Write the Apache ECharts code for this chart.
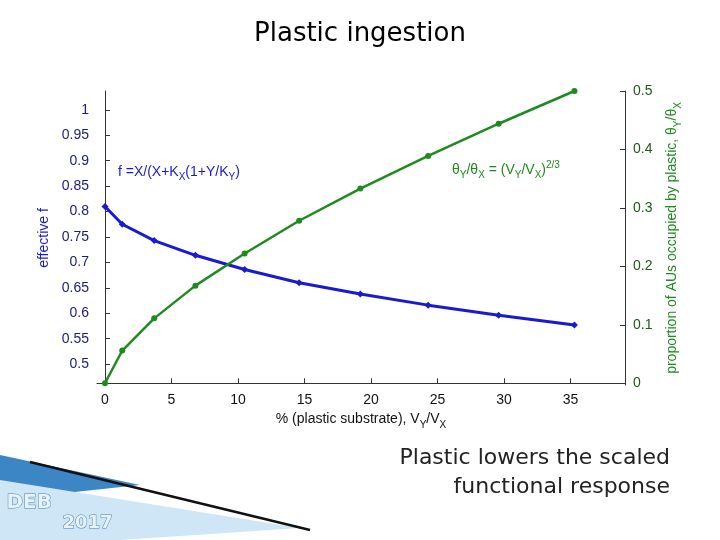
<!DOCTYPE html>
<html>
<head>
<meta charset="utf-8">
<script src="https://cdn.jsdelivr.net/npm/echarts@6/dist/echarts.min.js"></script>
<style>html,body{margin:0;padding:0;background:#fff}#main{width:720px;height:540px}</style>
</head>
<body>
<div id="main"></div>
<script>
/** 数据 */
let substrate = [0, 1.3, 3.7, 6.8, 10.5, 14.6, 19.2, 24.3, 29.6, 35.3];
let effective_f = [0.81, 0.775, 0.743, 0.714, 0.686, 0.66, 0.638, 0.616, 0.596, 0.577];
let theta_ratio = [0, 0.056, 0.111, 0.167, 0.222, 0.278, 0.333, 0.389, 0.444, 0.5];
let x_ticks = [0, 5, 10, 15, 20, 25, 30, 35];
let left_ticks = [0.5, 0.55, 0.6, 0.65, 0.7, 0.75, 0.8, 0.85, 0.9, 0.95, 1];
let right_ticks = [0, 0.1, 0.2, 0.3, 0.4, 0.5];

let blue = "#1a1ad0";
let green = "#1f8a1f";
let font = "Liberation Sans";

let chart = echarts.init(document.getElementById("main"));
let option = {
	animation: false,
	title: {
		text: "Plastic ingestion",
		left: "center",
		top: 16,
		textStyle: { fontFamily: "DejaVu Sans", fontSize: 26, fontWeight: "normal", color: "#000" },
	},
	grid: { left: 97, right: 95, top: 91, bottom: 155 },
	xAxis: {
		type: "value",
		min: -0.6,
		max: 39.1,
		axisLine: { lineStyle: { color: "#333" } },
		axisTick: { customValues: x_ticks, inside: true, lineStyle: { color: "#333" } },
		axisLabel: { customValues: x_ticks, color: "#111", fontFamily: font, fontSize: 14 },
		splitLine: { show: false },
		name: "% (plastic substrate), V{s|Y}/V{s|X}",
		nameLocation: "middle",
		nameGap: 22,
		nameTextStyle: { color: "#111", fontFamily: font, fontSize: 14, rich: { s: { fontSize: 10, padding: [12, 0, 0, 0] } } },
	},
	yAxis: [
		{
			type: "value",
			min: 0.459,
			max: 1.037,
			axisLine: { show: true, lineStyle: { color: "#333" } },
			axisTick: { customValues: left_ticks, inside: true },
			axisLabel: { customValues: left_ticks, color: "#1a1a80", fontFamily: font, fontSize: 14 },
			splitLine: { show: false },
			name: "effective f",
			nameLocation: "middle",
			nameGap: 44,
			nameRotate: 90,
			nameTextStyle: { color: blue, fontFamily: font, fontSize: 14 },
		},
		{
			type: "value",
			min: -0.003,
			max: 0.5,
			position: "right",
			axisLine: { show: true, lineStyle: { color: "#333" } },
			axisTick: { customValues: right_ticks, inside: true },
			axisLabel: { customValues: right_ticks, color: "#1a5a1a", fontFamily: font, fontSize: 14 },
			splitLine: { show: false },
			name: "proportion of AUs occupied by plastic, θ{s|Y}/θ{s|X}",
			nameLocation: "middle",
			nameGap: 36,
			nameRotate: 90,
			nameTextStyle: { color: green, fontFamily: font, fontSize: 14, rich: { s: { fontSize: 10, padding: [12, 0, 0, 0] } } },
		},
	],
	series: [
		{
			type: "line",
			yAxisIndex: 0,
			data: substrate.map((x, i) => [x, effective_f[i]]),
			symbol: "diamond",
			symbolSize: 7,
			itemStyle: { color: blue },
			lineStyle: { color: blue, width: 3 },
		},
		{
			type: "line",
			yAxisIndex: 1,
			data: substrate.map((x, i) => [x, theta_ratio[i]]),
			symbol: "circle",
			symbolSize: 6,
			itemStyle: { color: green },
			lineStyle: { color: green, width: 2.5 },
		},
	],
	graphic: [
		{
			type: "text", left: 118, top: 165,
			style: { text: "f =X/(X+K{s|X}(1+Y/K{s|Y})", fill: blue, font: "14px " + font, rich: { s: { fontSize: 10, padding: [10, 0, 0, 0] } } },
		},
		{
			type: "text", left: 452, top: 160,
			style: { text: "θ{s|Y}/θ{s|X} = (V{s|Y}/V{s|X}){p|2/3}", fill: green, font: "14px " + font, rich: { s: { fontSize: 10, padding: [10, 0, 0, 0] }, p: { fontSize: 10, padding: [0, 0, 10, 0] } } },
		},
		{
			type: "text", x: 670, y: 458,
			style: { text: "Plastic lowers the scaled", align: "right", verticalAlign: "middle", fill: "#222", font: "22px 'DejaVu Sans'" },
		},
		{
			type: "text", x: 670, y: 487,
			style: { text: "functional response", align: "right", verticalAlign: "middle", fill: "#222", font: "22px 'DejaVu Sans'" },
		},
		{ type: "polygon", shape: { points: [[0, 455], [140, 485], [0, 500]] }, style: { fill: "#3d86c6" } },
		{ type: "polygon", shape: { points: [[0, 480], [300, 528], [120, 540], [0, 540]] }, style: { fill: "#cfe6f6" } },
		{ type: "polyline", shape: { points: [[30, 462], [310, 530]] }, style: { stroke: "#111", lineWidth: 2.5 } },
		{ type: "text", left: 6, top: 492, style: { text: "DEB", fill: "#e8f2fb", font: "bold 20px 'DejaVu Sans'", stroke: "#4a7fb0", lineWidth: 1 } },
		{ type: "text", left: 62, top: 514, style: { text: "2017", fill: "#e8f2fb", font: "bold 18px 'DejaVu Sans'", stroke: "#4a7fb0", lineWidth: 1 } },
	],
};
chart.setOption(option);
</script>
</body>
</html>
